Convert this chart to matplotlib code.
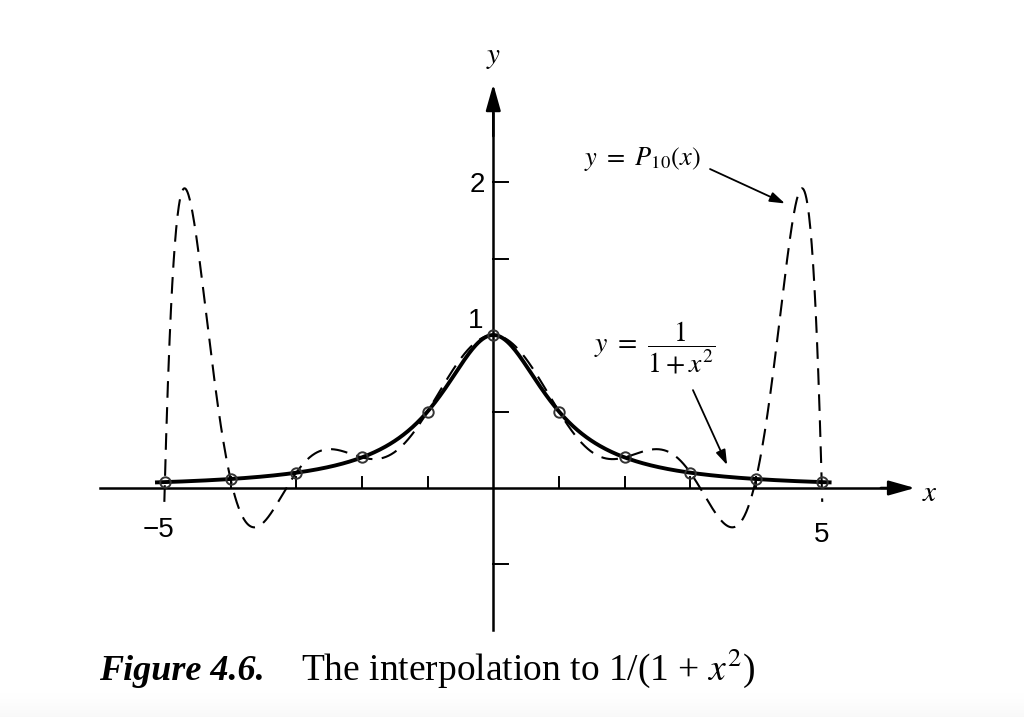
import numpy as np
import matplotlib
matplotlib.use("Agg")
import matplotlib.pyplot as plt

plt.rcParams.update({"mathtext.fontset": "stix", "font.family": "DejaVu Sans"})

# ---- data ------------------------------------------------------------------
NODES_X = [-5, -4, -3, -2, -1, 0, 1, 2, 3, 4, 5]          # interpolation nodes
NODES_Y = [0.0385, 0.0588, 0.1, 0.2, 0.5, 1.0, 0.5, 0.2, 0.1, 0.0588, 0.0385]
XTICKS = [-4, -3, -2, -1, 1, 2, 3, 4]
YTICKS = [-0.5, 0.5, 1.5, 2.0]


def runge(x):
    return 1.0 / (1.0 + x ** 2)


# degree-10 interpolating polynomial through the nodes
p10 = np.polynomial.Polynomial.fit(NODES_X, NODES_Y, 10)

fig = plt.figure(figsize=(10.24, 7.17), dpi=100)
ax = fig.add_axes([0, 0, 1, 1])
ax.set_xlim(-7.51, 8.08)
ax.set_ylim(-1.497, 3.19)
ax.axis("off")

# light grey band at the bottom of the scan
grad = np.linspace(0, 1, 50)[:, None] ** 1.5
ax.imshow(grad, extent=(-7.51, 8.08, -1.497, -1.32), cmap="Greys", vmin=0, vmax=18,
          aspect="auto", zorder=0)

# ---- axes with arrow heads -------------------------------------------------
ax.plot([-5.99, 6.0], [0, 0], color="black", lw=1.8, zorder=2)
ax.plot([0, 0], [-0.93, 2.45], color="black", lw=1.8, zorder=2)
ax.annotate("", xy=(6.42, 0), xytext=(5.9, 0),
            arrowprops=dict(arrowstyle="-|>,head_length=1.6,head_width=0.45",
                            color="black", lw=1.8, shrinkA=0, shrinkB=0))
ax.annotate("", xy=(0, 2.64), xytext=(0, 2.3),
            arrowprops=dict(arrowstyle="-|>,head_length=1.6,head_width=0.45",
                            color="black", lw=1.8, shrinkA=0, shrinkB=0))
for t in XTICKS:
    ax.plot([t, t], [0, 0.075], color="black", lw=1.4, zorder=2)
for t in YTICKS:
    ax.plot([0, 0.22], [t, t], color="black", lw=1.4, zorder=2)

lab = dict(fontsize=20, family="Liberation Sans", ha="center", va="center")
ax.text(-0.24, 1.98, "2", **lab)
ax.text(-0.27, 1.09, "1", **lab)
ax.text(-5.1, -0.275, "\u22125", **lab)
ax.text(5.0, -0.305, "5", **lab)
ax.text(0.0, 2.82, "$y$", fontsize=21, ha="center", va="center")
ax.text(6.64, -0.03, "$x$", fontsize=21, ha="center", va="center")

# ---- curves ----------------------------------------------------------------
xs = np.linspace(-5.15, 5.15, 600)
ax.plot(xs, runge(xs), color="black", lw=2.8, solid_capstyle="butt", zorder=3)
xd = np.linspace(-5.008, 5.008, 1500)
ax.plot(xd, p10(xd), color="black", lw=1.5, dashes=(8, 4.5), zorder=3)
ax.plot(NODES_X, NODES_Y, "o", ms=7.5, mfc="none", mec="#333333", mew=1.4, zorder=4)

# ---- annotations -----------------------------------------------------------
ax.text(2.27, 2.15, r"$y\ =\ P_{10}(x)$", fontsize=19, ha="center", va="center")
ax.annotate("", xy=(4.44, 1.86), xytext=(3.3, 2.085),
            arrowprops=dict(arrowstyle="-|>,head_length=0.9,head_width=0.3",
                            color="black", lw=1.3, shrinkA=0, shrinkB=0))
ax.text(2.45, 0.92, r"$y\ =\ \dfrac{1}{1+x^2}$", fontsize=20, ha="center", va="center")
ax.annotate("", xy=(3.56, 0.15), xytext=(3.04, 0.64),
            arrowprops=dict(arrowstyle="-|>,head_length=0.9,head_width=0.3",
                            color="black", lw=1.3, shrinkA=0, shrinkB=0))

# ---- caption ---------------------------------------------------------------
ax.text(-6.0, -1.255, "Figure 4.6.", fontsize=26, family="Liberation Serif",
        style="italic", weight="bold", ha="left", va="baseline")
ax.text(-2.92, -1.255, r"The interpolation to 1/(1 + $x^2$)", fontsize=27,
        family="Liberation Serif", ha="left", va="baseline")

fig.savefig("out.png", dpi=100)
